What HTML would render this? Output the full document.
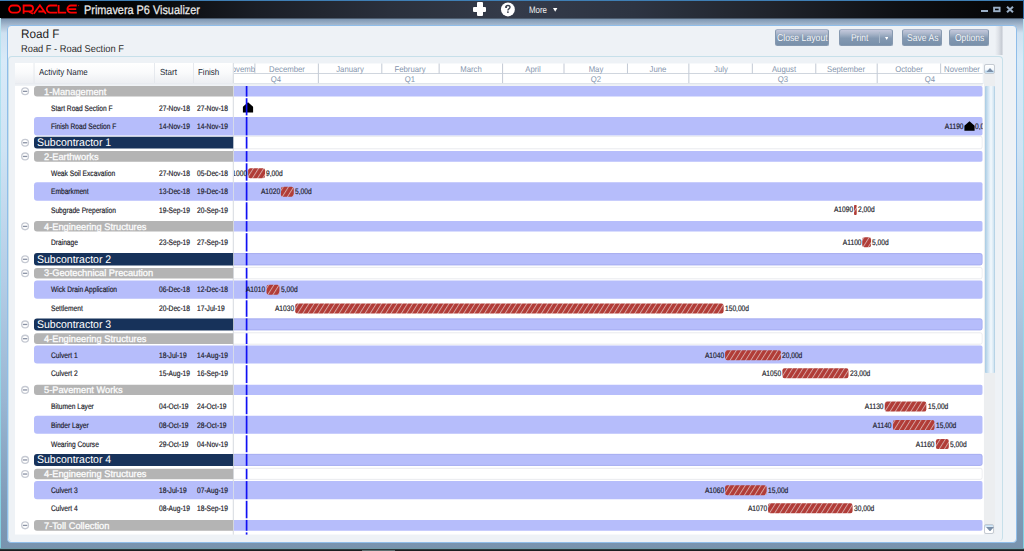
<!DOCTYPE html>
<html><head><meta charset="utf-8"><style>
*{margin:0;padding:0;box-sizing:border-box}
html,body{width:1024px;height:551px;overflow:hidden}
body{position:relative;font-family:"Liberation Sans", sans-serif;background:linear-gradient(to bottom,#7e97b2 19px,#a6bad0 25px,#cfe1f1 33px,#d8eaf8 60px,#cfe3f4 150px,#b4cde6 280px,#9ab6d2 400px,#809cb9 500px,#7893ae 549px);}
.t{position:absolute;white-space:nowrap;line-height:1;font-family:"Liberation Sans", sans-serif;text-rendering:geometricPrecision}
.btxt{text-rendering:geometricPrecision}
.b{position:absolute}
.clip{position:absolute;overflow:hidden}
.btn{position:absolute;top:29px;height:17px;border-radius:2.5px;background:linear-gradient(to bottom,#c4c8dc 0%,#aab6ca 25%,#8499b2 55%,#7890aa 100%);border:0.6px solid #8699b0;border-top-color:#a4b0c6}
.btxt{position:absolute;white-space:nowrap;line-height:1;font-size:10px;color:#f6f8fb;text-shadow:0 0 1px #6a7f96;transform-origin:0 0;top:34px}
</style></head><body>
<!-- title bar -->
<div class="b" style="left:0;top:0;width:1024px;height:18px;background:linear-gradient(to right,#000 0%,#030405 12%,#1a1e26 25%,#2a303c 38%,#343b4a 50%,#2d3442 62%,#20242c 75%,#0e1014 88%,#07080a 96%,#050608 100%)"></div>
<div class="b" style="left:0;top:0;width:1024px;height:1px;background:#3f7fb5"></div>
<div class="b" style="left:1023px;top:0;width:1px;height:19px;background:#2f6ea6;z-index:2"></div>
<div class="b" style="left:0;top:18px;width:1024px;height:1px;background:#4d5d70"></div>
<div class="b" style="left:1023px;top:0;width:1px;height:551px;background:linear-gradient(#b8e4f2,#9adaea 50%,#80d0e0)"></div>
<div class="b" style="left:0;top:18px;width:1px;height:533px;background:linear-gradient(#b8e4f2,#9adaea 50%,#80d0e0)"></div>
<svg class="b" style="left:7px;top:4.4px" width="74" height="11" viewBox="0 0 74 11">
 <g fill="none" stroke="#f00" stroke-width="1.8">
  <path d="M5.6 1.5 H9.6 A3.55 3.55 0 0 1 9.6 8.6 H5.6 A3.55 3.55 0 0 1 5.6 1.5 Z"/>
  <path d="M16.6 9.7 V1.5 H23.1 A2.95 2.95 0 0 1 23.1 7.4 H17.4 M21.8 7.4 L26 9.7"/>
  <path d="M26.8 9.7 L32.9 1.3 L38.9 9.7 M31.4 7.5 H37.2"/>
  <path d="M50.2 1.5 H43.4 A3.6 3.6 0 0 0 43.4 8.7 H50.2"/>
  <path d="M51.6 1.1 V8.7 H59.2"/>
  <path d="M69.8 1.5 H64 A3.6 3.6 0 0 0 64 8.7 H69.8 M61.2 5.1 H69.2"/>
 </g>
 <circle cx="71.6" cy="1.6" r="0.6" fill="#c00"/>
</svg>
<div class="t" style="left:83.7px;top:4px;font-size:12.3px;color:#ececec;transform:scaleX(0.885);transform-origin:0 0;-webkit-text-stroke:0.25px #ececec">Primavera P6 Visualizer</div>
<!-- plus icon -->
<div class="b" style="left:477.2px;top:2.4px;width:5.4px;height:13.7px;background:#fff;border-radius:1px"></div>
<div class="b" style="left:472.8px;top:6.8px;width:13.7px;height:5.4px;background:#fff;border-radius:1px"></div>
<!-- help icon -->
<svg class="b" style="left:500px;top:2px" width="16" height="16" viewBox="500 2 16 16">
 <circle cx="507.9" cy="9.45" r="6.95" fill="#fff"/>
 <path d="M505.9 7.6 Q505.7 5.5 508 5.5 Q510.1 5.5 510 7.3 Q509.9 8.4 508.7 9 Q507.9 9.5 507.9 10.6" fill="none" stroke="#3a404c" stroke-width="1.45"/>
 <circle cx="506.2" cy="7.2" r="0.9" fill="#3a404c"/>
 <circle cx="507.9" cy="12.1" r="0.95" fill="#3a404c"/>
</svg>
<div class="t" style="left:529px;top:6px;font-size:9.5px;color:#f2f2f2;transform:scaleX(0.83);transform-origin:0 0">More</div>
<svg class="b" style="left:553.2px;top:8.2px" width="4.4" height="3.8"><path d="M0 0 H4.4 L2.2 3.8 Z" fill="#fff"/></svg>
<!-- window controls -->
<div class="b" style="left:980.5px;top:9.6px;width:7.5px;height:2.4px;background:#9aafc7"></div>
<svg class="b" style="left:990px;top:4px" width="14" height="12"><rect x="4.1" y="3.7" width="5.5" height="3.5" fill="none" stroke="#9aafc7" stroke-width="1.9"/></svg>
<svg class="b" style="left:1005.5px;top:5.8px" width="8" height="7"><path d="M1 0.8 L7 6.2 M7 0.8 L1 6.2" stroke="#9aafc7" stroke-width="2.1"/></svg>

<!-- outer panel -->
<div class="b" style="left:7px;top:25px;width:1010px;height:518px;background:#eef2f6;border:1px solid #8fbde9;border-radius:4px"></div>
<!-- shadow strip -->
<div class="b" style="left:995px;top:26px;width:8px;height:28.5px;background:linear-gradient(to right,#eef2f6,#dde1e7 45%,#c6cbd3 85%,#e4e8ee)"></div>
<div class="t" style="left:21.1px;top:28px;font-size:12.3px;color:#1b1b1b;transform:scaleX(0.953);transform-origin:0 0">Road F</div>
<div class="t" style="left:21.1px;top:45px;font-size:10px;color:#2e2e2e;transform:scaleX(0.93);transform-origin:0 0">Road F - Road Section F</div>
<!-- buttons -->
<div class="btn" style="left:775px;width:54.2px"></div>
<div class="btxt" style="left:776.8px;transform:scaleX(0.868)">Close Layout</div>
<div class="btn" style="left:839.4px;width:53.4px"></div>
<div class="b" style="left:879.2px;top:31.6px;width:0.8px;height:11.3px;background:#a9b9ca"></div>
<div class="btxt" style="left:850.8px;transform:scaleX(0.842)">Print</div>
<svg class="b" style="left:884.7px;top:36.6px" width="3.4" height="3"><path d="M0 0 H3.4 L1.7 3 Z" fill="#fff"/></svg>
<div class="btn" style="left:902.3px;width:40px"></div>
<div class="btxt" style="left:907px;transform:scaleX(0.858)">Save As</div>
<div class="btn" style="left:949.2px;width:39.8px"></div>
<div class="btxt" style="left:954.6px;transform:scaleX(0.847)">Options</div>

<!-- inner panel -->
<div class="b" style="left:8px;top:56px;width:994.5px;height:485px;border:1px solid #c7e0ea;border-bottom:none;border-radius:4px 4px 4px 4px;background:#eef2f6"></div>
<svg class="b" style="left:0;top:0" width="1024" height="551" viewBox="0 0 1024 551">
<defs>
 <pattern id="stripe" patternUnits="userSpaceOnUse" width="4.4" height="20" patternTransform="rotate(32)">
  <rect width="4.4" height="20" fill="#b13c37"/><rect x="0" width="0.95" height="20" fill="#d5a6a4"/>
 </pattern>
 <clipPath id="gclip"><rect x="234.0" y="84" width="748.7" height="451"/></clipPath>
</defs>
<!-- table header -->
<rect x="15" y="63" width="218.5" height="20.5" fill="url(#hg)"/>
<linearGradient id="hg" x1="0" y1="0" x2="0" y2="1"><stop offset="0" stop-color="#ffffff"/><stop offset="0.45" stop-color="#fafbfc"/><stop offset="1" stop-color="#eceef2"/></linearGradient>
<rect x="15" y="83.3" width="218.5" height="0.9" fill="#dfe2e7"/>
<rect x="33.6" y="63" width="0.9" height="20.3" fill="#e4e7ec"/>
<rect x="154" y="63" width="0.9" height="20.3" fill="#e4e7ec"/>
<rect x="193" y="63" width="0.9" height="20.3" fill="#e4e7ec"/>
<!-- table body -->
<rect x="15" y="84.2" width="218.5" height="450.3" fill="#fff"/>
<rect x="232.8" y="63" width="0.9" height="471.5" fill="#d3d7dd"/>
<!-- gantt header -->
<rect x="234" y="63.5" width="748.7" height="20" fill="#fff"/>
<rect x="234" y="73" width="748.7" height="0.9" fill="#cbd2db"/>
<rect x="234" y="83" width="748.7" height="0.9" fill="#cbd2db"/>
<rect x="254.4" y="63.5" width="1" height="10" fill="#c3cad5"/><rect x="317.86" y="63.5" width="1" height="10" fill="#c3cad5"/><rect x="381.31" y="63.5" width="1" height="10" fill="#c3cad5"/><rect x="438.63" y="63.5" width="1" height="10" fill="#c3cad5"/><rect x="502.09" y="63.5" width="1" height="10" fill="#c3cad5"/><rect x="563.5" y="63.5" width="1" height="10" fill="#c3cad5"/><rect x="626.95" y="63.5" width="1" height="10" fill="#c3cad5"/><rect x="688.36" y="63.5" width="1" height="10" fill="#c3cad5"/><rect x="751.82" y="63.5" width="1" height="10" fill="#c3cad5"/><rect x="815.28" y="63.5" width="1" height="10" fill="#c3cad5"/><rect x="876.69" y="63.5" width="1" height="10" fill="#c3cad5"/><rect x="940.14" y="63.5" width="1" height="10" fill="#c3cad5"/><rect x="317.86" y="73.5" width="1" height="10" fill="#c3cad5"/><rect x="502.09" y="73.5" width="1" height="10" fill="#c3cad5"/><rect x="688.36" y="73.5" width="1" height="10" fill="#c3cad5"/><rect x="876.69" y="73.5" width="1" height="10" fill="#c3cad5"/>
<!-- gantt body -->
<rect x="234" y="84" width="749.9" height="450.5" fill="#fff"/>
<rect x="15" y="83.4" width="967.7" height="2.4" fill="#eceff3"/>
<circle cx="25.1" cy="91.3" r="3.4" fill="#fff" stroke="#c6cad3" stroke-width="1.3"/><rect x="22.9" y="90.7" width="4.4" height="1.3" fill="#8a92a4"/><path d="M233.2 86.0 H37.0 Q34.0 86.0 34.0 89.0 V93.6 Q34.0 96.6 37.0 96.6 H233.2 Z" fill="#b4b4b4" /><path d="M233.2 117.0 H37.0 Q34.0 117.0 34.0 120.0 V132.4 Q34.0 135.4 37.0 135.4 H233.2 Z" fill="#b6bdfb" /><circle cx="25.1" cy="142.7" r="3.4" fill="#fff" stroke="#c6cad3" stroke-width="1.3"/><rect x="22.9" y="142.1" width="4.4" height="1.3" fill="#8a92a4"/><path d="M233.2 136.8 H37.0 Q34.0 136.8 34.0 139.8 V145.6 Q34.0 148.6 37.0 148.6 H233.2 Z" fill="#17325a" /><circle cx="25.1" cy="156.4" r="3.4" fill="#fff" stroke="#c6cad3" stroke-width="1.3"/><rect x="22.9" y="155.8" width="4.4" height="1.3" fill="#8a92a4"/><path d="M233.2 151.1 H37.0 Q34.0 151.1 34.0 154.1 V158.7 Q34.0 161.7 37.0 161.7 H233.2 Z" fill="#b4b4b4" /><path d="M233.2 182.3 H37.0 Q34.0 182.3 34.0 185.3 V197.7 Q34.0 200.7 37.0 200.7 H233.2 Z" fill="#b6bdfb" /><circle cx="25.1" cy="226.35" r="3.4" fill="#fff" stroke="#c6cad3" stroke-width="1.3"/><rect x="22.9" y="225.75" width="4.4" height="1.3" fill="#8a92a4"/><path d="M233.2 221.1 H37.0 Q34.0 221.1 34.0 224.1 V228.6 Q34.0 231.6 37.0 231.6 H233.2 Z" fill="#b4b4b4" /><circle cx="25.1" cy="259.25" r="3.4" fill="#fff" stroke="#c6cad3" stroke-width="1.3"/><rect x="22.9" y="258.65" width="4.4" height="1.3" fill="#8a92a4"/><path d="M233.2 253.1 H37.0 Q34.0 253.1 34.0 256.1 V262.4 Q34.0 265.4 37.0 265.4 H233.2 Z" fill="#17325a" /><circle cx="25.1" cy="273.25" r="3.4" fill="#fff" stroke="#c6cad3" stroke-width="1.3"/><rect x="22.9" y="272.65" width="4.4" height="1.3" fill="#8a92a4"/><path d="M233.2 267.9 H37.0 Q34.0 267.9 34.0 270.9 V275.6 Q34.0 278.6 37.0 278.6 H233.2 Z" fill="#b4b4b4" /><path d="M233.2 280.4 H37.0 Q34.0 280.4 34.0 283.4 V295.7 Q34.0 298.7 37.0 298.7 H233.2 Z" fill="#b6bdfb" /><circle cx="25.1" cy="324.4" r="3.4" fill="#fff" stroke="#c6cad3" stroke-width="1.3"/><rect x="22.9" y="323.8" width="4.4" height="1.3" fill="#8a92a4"/><path d="M233.2 318.4 H37.0 Q34.0 318.4 34.0 321.4 V327.4 Q34.0 330.4 37.0 330.4 H233.2 Z" fill="#17325a" /><circle cx="25.1" cy="338.65" r="3.4" fill="#fff" stroke="#c6cad3" stroke-width="1.3"/><rect x="22.9" y="338.05" width="4.4" height="1.3" fill="#8a92a4"/><path d="M233.2 333.3 H37.0 Q34.0 333.3 34.0 336.3 V341.0 Q34.0 344.0 37.0 344.0 H233.2 Z" fill="#b4b4b4" /><path d="M233.2 345.6 H37.0 Q34.0 345.6 34.0 348.6 V360.6 Q34.0 363.6 37.0 363.6 H233.2 Z" fill="#b6bdfb" /><circle cx="25.1" cy="389.9" r="3.4" fill="#fff" stroke="#c6cad3" stroke-width="1.3"/><rect x="22.9" y="389.3" width="4.4" height="1.3" fill="#8a92a4"/><path d="M233.2 384.7 H37.0 Q34.0 384.7 34.0 387.7 V392.1 Q34.0 395.1 37.0 395.1 H233.2 Z" fill="#b4b4b4" /><path d="M233.2 415.8 H37.0 Q34.0 415.8 34.0 418.8 V430.7 Q34.0 433.7 37.0 433.7 H233.2 Z" fill="#b6bdfb" /><circle cx="25.1" cy="459.9" r="3.4" fill="#fff" stroke="#c6cad3" stroke-width="1.3"/><rect x="22.9" y="459.3" width="4.4" height="1.3" fill="#8a92a4"/><path d="M233.2 453.9 H37.0 Q34.0 453.9 34.0 456.9 V462.9 Q34.0 465.9 37.0 465.9 H233.2 Z" fill="#17325a" /><circle cx="25.1" cy="474.0" r="3.4" fill="#fff" stroke="#c6cad3" stroke-width="1.3"/><rect x="22.9" y="473.4" width="4.4" height="1.3" fill="#8a92a4"/><path d="M233.2 468.8 H37.0 Q34.0 468.8 34.0 471.8 V476.2 Q34.0 479.2 37.0 479.2 H233.2 Z" fill="#b4b4b4" /><path d="M233.2 481.1 H37.0 Q34.0 481.1 34.0 484.1 V496.2 Q34.0 499.2 37.0 499.2 H233.2 Z" fill="#b6bdfb" /><circle cx="25.1" cy="525.35" r="3.4" fill="#fff" stroke="#c6cad3" stroke-width="1.3"/><rect x="22.9" y="524.75" width="4.4" height="1.3" fill="#8a92a4"/><path d="M233.2 519.9 H37.0 Q34.0 519.9 34.0 522.9 V527.8 Q34.0 530.8 37.0 530.8 H233.2 Z" fill="#b4b4b4" />
<g clip-path="url(#gclip)">
<path d="M232.0 86.0 H980.7 Q982.7 86.0 982.7 88.0 V94.6 Q982.7 96.6 980.7 96.6 H232.0 Z" fill="#b6bdfb" /><path d="M242.9 106.8 L248.0 102.3 L253.1 106.8 L253.1 112.6 L242.9 112.6 Z" fill="#000"/><path d="M232.0 117.0 H980.7 Q982.7 117.0 982.7 119.0 V133.4 Q982.7 135.4 980.7 135.4 H232.0 Z" fill="#b6bdfb" /><path d="M964.4 125.7 L969.5 121.2 L974.6 125.7 L974.6 130.8 L964.4 130.8 Z" fill="#000"/><path d="M232.0 136.3 H980.25 Q982.25 136.3 982.25 138.3 V146.8 Q982.25 148.8 980.25 148.8 H232.0 Z" fill="#fff" stroke="#e6e8ec" stroke-width="0.9"/><path d="M232.0 151.1 H980.7 Q982.7 151.1 982.7 153.1 V159.7 Q982.7 161.7 980.7 161.7 H232.0 Z" fill="#b6bdfb" /><rect x="248.11" y="168.2" width="17.02" height="10" rx="2.2" fill="url(#stripe)"/><path d="M232.0 182.3 H980.7 Q982.7 182.3 982.7 184.3 V198.7 Q982.7 200.7 980.7 200.7 H232.0 Z" fill="#b6bdfb" /><rect x="280.86" y="186.7" width="12.93" height="10" rx="2.2" fill="url(#stripe)"/><rect x="854.02" y="204.9" width="2.69" height="10" rx="0.9" fill="url(#stripe)"/><path d="M232.0 221.1 H980.7 Q982.7 221.1 982.7 223.1 V229.6 Q982.7 231.6 980.7 231.6 H232.0 Z" fill="#b6bdfb" /><rect x="862.21" y="237.2" width="8.84" height="10" rx="2.2" fill="url(#stripe)"/><path d="M232.0 253.55 H980.25 Q982.25 253.55 982.25 255.55 V262.95 Q982.25 264.95 980.25 264.95 H232.0 Z" fill="#b6bdfb" stroke="#a2a9ee" stroke-width="0.9"/><path d="M232.0 267.4 H980.25 Q982.25 267.4 982.25 269.4 V276.8 Q982.25 278.8 980.25 278.8 H232.0 Z" fill="#fff" stroke="#e6e8ec" stroke-width="0.9"/><path d="M232.0 280.4 H980.7 Q982.7 280.4 982.7 282.4 V296.7 Q982.7 298.7 980.7 298.7 H232.0 Z" fill="#b6bdfb" /><rect x="266.53" y="284.7" width="12.93" height="10" rx="2.2" fill="url(#stripe)"/><rect x="295.19" y="303.5" width="428.47" height="10" rx="2.2" fill="url(#stripe)"/><path d="M232.0 318.85 H980.25 Q982.25 318.85 982.25 320.85 V327.95 Q982.25 329.95 980.25 329.95 H232.0 Z" fill="#b6bdfb" stroke="#a2a9ee" stroke-width="0.9"/><path d="M232.0 332.8 H980.25 Q982.25 332.8 982.25 334.8 V342.2 Q982.25 344.2 980.25 344.2 H232.0 Z" fill="#fff" stroke="#e6e8ec" stroke-width="0.9"/><path d="M232.0 345.6 H980.7 Q982.7 345.6 982.7 347.6 V361.6 Q982.7 363.6 980.7 363.6 H232.0 Z" fill="#b6bdfb" /><rect x="725.06" y="350.2" width="55.92" height="10" rx="2.2" fill="url(#stripe)"/><rect x="782.38" y="368.2" width="66.15" height="10" rx="2.2" fill="url(#stripe)"/><path d="M232.0 384.7 H980.7 Q982.7 384.7 982.7 386.7 V393.1 Q982.7 395.1 980.7 395.1 H232.0 Z" fill="#b6bdfb" /><rect x="884.73" y="401.6" width="41.59" height="10" rx="2.2" fill="url(#stripe)"/><path d="M232.0 415.8 H980.7 Q982.7 415.8 982.7 417.8 V431.7 Q982.7 433.7 980.7 433.7 H232.0 Z" fill="#b6bdfb" /><rect x="892.92" y="420.1" width="41.59" height="10" rx="2.2" fill="url(#stripe)"/><rect x="935.9" y="439.1" width="12.93" height="10" rx="2.2" fill="url(#stripe)"/><path d="M232.0 454.35 H980.25 Q982.25 454.35 982.25 456.35 V463.45 Q982.25 465.45 980.25 465.45 H232.0 Z" fill="#b6bdfb" stroke="#a2a9ee" stroke-width="0.9"/><path d="M232.0 468.3 H980.25 Q982.25 468.3 982.25 470.3 V477.4 Q982.25 479.4 980.25 479.4 H232.0 Z" fill="#fff" stroke="#e6e8ec" stroke-width="0.9"/><path d="M232.0 481.1 H980.7 Q982.7 481.1 982.7 483.1 V497.2 Q982.7 499.2 980.7 499.2 H232.0 Z" fill="#b6bdfb" /><rect x="725.06" y="485.3" width="41.59" height="10" rx="2.2" fill="url(#stripe)"/><rect x="768.05" y="503.3" width="84.57" height="10" rx="2.2" fill="url(#stripe)"/><path d="M232.0 519.9 H980.7 Q982.7 519.9 982.7 521.9 V528.8 Q982.7 530.8 980.7 530.8 H232.0 Z" fill="#b6bdfb" />
<rect x="245.75" y="86.0" width="1.7" height="10.6" fill="#1010f4"/><rect x="245.75" y="98.2" width="1.7" height="17.2" fill="#1010f4"/><rect x="245.75" y="117.0" width="1.7" height="18.4" fill="#1010f4"/><rect x="245.75" y="136.8" width="1.7" height="11.8" fill="#1010f4"/><rect x="245.75" y="151.1" width="1.7" height="10.6" fill="#1010f4"/><rect x="245.75" y="163.3" width="1.7" height="17.4" fill="#1010f4"/><rect x="245.75" y="182.3" width="1.7" height="18.4" fill="#1010f4"/><rect x="245.75" y="202.3" width="1.7" height="17.2" fill="#1010f4"/><rect x="245.75" y="221.1" width="1.7" height="10.5" fill="#1010f4"/><rect x="245.75" y="233.2" width="1.7" height="18.3" fill="#1010f4"/><rect x="245.75" y="253.1" width="1.7" height="12.3" fill="#1010f4"/><rect x="245.75" y="267.9" width="1.7" height="10.7" fill="#1010f4"/><rect x="245.75" y="280.4" width="1.7" height="18.3" fill="#1010f4"/><rect x="245.75" y="300.3" width="1.7" height="16.5" fill="#1010f4"/><rect x="245.75" y="318.4" width="1.7" height="12.0" fill="#1010f4"/><rect x="245.75" y="333.3" width="1.7" height="10.7" fill="#1010f4"/><rect x="245.75" y="345.6" width="1.7" height="18.0" fill="#1010f4"/><rect x="245.75" y="365.2" width="1.7" height="17.9" fill="#1010f4"/><rect x="245.75" y="384.7" width="1.7" height="10.4" fill="#1010f4"/><rect x="245.75" y="396.7" width="1.7" height="17.5" fill="#1010f4"/><rect x="245.75" y="415.8" width="1.7" height="17.9" fill="#1010f4"/><rect x="245.75" y="435.3" width="1.7" height="17.0" fill="#1010f4"/><rect x="245.75" y="453.9" width="1.7" height="12.0" fill="#1010f4"/><rect x="245.75" y="468.8" width="1.7" height="10.4" fill="#1010f4"/><rect x="245.75" y="481.1" width="1.7" height="18.1" fill="#1010f4"/><rect x="245.75" y="500.8" width="1.7" height="17.5" fill="#1010f4"/><rect x="245.75" y="519.9" width="1.7" height="10.9" fill="#1010f4"/>
<rect x="245.75" y="532.4" width="1.7" height="2.2" fill="#1010f4"/>
</g>
</svg>
<!-- header text -->
<div class="t" style="left:38.6px;top:68px;font-size:8.8px;color:#222833;transform:scaleX(0.907);transform-origin:0 0">Activity Name</div>
<div class="t" style="left:159.7px;top:68px;font-size:8.8px;color:#222833;transform:scaleX(0.907);transform-origin:0 0">Start</div>
<div class="t" style="left:198px;top:68px;font-size:8.8px;color:#222833;transform:scaleX(0.907);transform-origin:0 0">Finish</div>
<div class="clip" style="left:234.0px;width:20.9px;top:63px;height:11px"><div class="t" style="left:-189.55px;width:400px;text-align:center;top:2px;font-size:8.4px;color:#8595ad;transform:scaleX(0.926);transform-origin:50% 0;">November</div></div><div class="clip" style="left:254.9px;width:63.46px;top:63px;height:11px"><div class="t" style="left:-168.27px;width:400px;text-align:center;top:2px;font-size:8.4px;color:#8595ad;transform:scaleX(0.926);transform-origin:50% 0;">December</div></div><div class="clip" style="left:318.36px;width:63.46px;top:63px;height:11px"><div class="t" style="left:-168.27px;width:400px;text-align:center;top:2px;font-size:8.4px;color:#8595ad;transform:scaleX(0.926);transform-origin:50% 0;">January</div></div><div class="clip" style="left:381.81px;width:57.32px;top:63px;height:11px"><div class="t" style="left:-171.34px;width:400px;text-align:center;top:2px;font-size:8.4px;color:#8595ad;transform:scaleX(0.926);transform-origin:50% 0;">February</div></div><div class="clip" style="left:439.13px;width:63.46px;top:63px;height:11px"><div class="t" style="left:-168.27px;width:400px;text-align:center;top:2px;font-size:8.4px;color:#8595ad;transform:scaleX(0.926);transform-origin:50% 0;">March</div></div><div class="clip" style="left:502.59px;width:61.41px;top:63px;height:11px"><div class="t" style="left:-169.29px;width:400px;text-align:center;top:2px;font-size:8.4px;color:#8595ad;transform:scaleX(0.926);transform-origin:50% 0;">April</div></div><div class="clip" style="left:564.0px;width:63.46px;top:63px;height:11px"><div class="t" style="left:-168.27px;width:400px;text-align:center;top:2px;font-size:8.4px;color:#8595ad;transform:scaleX(0.926);transform-origin:50% 0;">May</div></div><div class="clip" style="left:627.45px;width:61.41px;top:63px;height:11px"><div class="t" style="left:-169.29px;width:400px;text-align:center;top:2px;font-size:8.4px;color:#8595ad;transform:scaleX(0.926);transform-origin:50% 0;">June</div></div><div class="clip" style="left:688.86px;width:63.46px;top:63px;height:11px"><div class="t" style="left:-168.27px;width:400px;text-align:center;top:2px;font-size:8.4px;color:#8595ad;transform:scaleX(0.926);transform-origin:50% 0;">July</div></div><div class="clip" style="left:752.32px;width:63.46px;top:63px;height:11px"><div class="t" style="left:-168.27px;width:400px;text-align:center;top:2px;font-size:8.4px;color:#8595ad;transform:scaleX(0.926);transform-origin:50% 0;">August</div></div><div class="clip" style="left:815.78px;width:61.41px;top:63px;height:11px"><div class="t" style="left:-169.3px;width:400px;text-align:center;top:2px;font-size:8.4px;color:#8595ad;transform:scaleX(0.926);transform-origin:50% 0;">September</div></div><div class="clip" style="left:877.19px;width:63.46px;top:63px;height:11px"><div class="t" style="left:-168.27px;width:400px;text-align:center;top:2px;font-size:8.4px;color:#8595ad;transform:scaleX(0.926);transform-origin:50% 0;">October</div></div><div class="clip" style="left:940.64px;width:42.06px;top:63px;height:11px"><div class="t" style="left:-178.97px;width:400px;text-align:center;top:2px;font-size:8.4px;color:#8595ad;transform:scaleX(0.926);transform-origin:50% 0;">November</div></div><div class="t" style="left:76.18px;width:400px;text-align:center;top:75px;font-size:8.4px;color:#8595ad;transform:scaleX(0.926);transform-origin:50% 0;">Q4</div><div class="t" style="left:210.47px;width:400px;text-align:center;top:75px;font-size:8.4px;color:#8595ad;transform:scaleX(0.926);transform-origin:50% 0;">Q1</div><div class="t" style="left:395.73px;width:400px;text-align:center;top:75px;font-size:8.4px;color:#8595ad;transform:scaleX(0.926);transform-origin:50% 0;">Q2</div><div class="t" style="left:583.03px;width:400px;text-align:center;top:75px;font-size:8.4px;color:#8595ad;transform:scaleX(0.926);transform-origin:50% 0;">Q3</div><div class="t" style="left:729.94px;width:400px;text-align:center;top:75px;font-size:8.4px;color:#8595ad;transform:scaleX(0.926);transform-origin:50% 0;">Q4</div>
<div class="t" style="left:44.2px;top:88px;font-size:9.5px;color:#fcfcfc;transform:scaleX(0.975);transform-origin:0 0;-webkit-text-stroke:0.3px #fcfcfc;">1-Management</div><div class="t" style="left:50.9px;top:105px;font-size:8px;color:#1a1a28;transform:scaleX(0.83);transform-origin:0 0;-webkit-text-stroke:0.18px #1a1a28;">Start Road Section F</div><div class="t" style="left:158.6px;top:105px;font-size:8px;color:#1a1a28;transform:scaleX(0.83);transform-origin:0 0;-webkit-text-stroke:0.18px #1a1a28;">27-Nov-18</div><div class="t" style="left:196.8px;top:105px;font-size:8px;color:#1a1a28;transform:scaleX(0.83);transform-origin:0 0;-webkit-text-stroke:0.18px #1a1a28;">27-Nov-18</div><div class="t" style="left:50.9px;top:123px;font-size:8px;color:#1a1a28;transform:scaleX(0.83);transform-origin:0 0;-webkit-text-stroke:0.18px #1a1a28;">Finish Road Section F</div><div class="t" style="left:158.6px;top:123px;font-size:8px;color:#1a1a28;transform:scaleX(0.83);transform-origin:0 0;-webkit-text-stroke:0.18px #1a1a28;">14-Nov-19</div><div class="t" style="left:196.8px;top:123px;font-size:8px;color:#1a1a28;transform:scaleX(0.83);transform-origin:0 0;-webkit-text-stroke:0.18px #1a1a28;">14-Nov-19</div><div class="t" style="left:36.8px;top:138px;font-size:11px;color:#ffffff;transform:scaleX(0.955);transform-origin:0 0;">Subcontractor 1</div><div class="t" style="left:44.2px;top:153px;font-size:9.5px;color:#fcfcfc;transform:scaleX(0.975);transform-origin:0 0;-webkit-text-stroke:0.3px #fcfcfc;">2-Earthworks</div><div class="t" style="left:50.9px;top:170px;font-size:8px;color:#1a1a28;transform:scaleX(0.83);transform-origin:0 0;-webkit-text-stroke:0.18px #1a1a28;">Weak Soil Excavation</div><div class="t" style="left:158.6px;top:170px;font-size:8px;color:#1a1a28;transform:scaleX(0.83);transform-origin:0 0;-webkit-text-stroke:0.18px #1a1a28;">27-Nov-18</div><div class="t" style="left:196.8px;top:170px;font-size:8px;color:#1a1a28;transform:scaleX(0.83);transform-origin:0 0;-webkit-text-stroke:0.18px #1a1a28;">05-Dec-18</div><div class="t" style="left:50.9px;top:188px;font-size:8px;color:#1a1a28;transform:scaleX(0.83);transform-origin:0 0;-webkit-text-stroke:0.18px #1a1a28;">Embarkment</div><div class="t" style="left:158.6px;top:188px;font-size:8px;color:#1a1a28;transform:scaleX(0.83);transform-origin:0 0;-webkit-text-stroke:0.18px #1a1a28;">13-Dec-18</div><div class="t" style="left:196.8px;top:188px;font-size:8px;color:#1a1a28;transform:scaleX(0.83);transform-origin:0 0;-webkit-text-stroke:0.18px #1a1a28;">19-Dec-18</div><div class="t" style="left:50.9px;top:207px;font-size:8px;color:#1a1a28;transform:scaleX(0.83);transform-origin:0 0;-webkit-text-stroke:0.18px #1a1a28;">Subgrade Preperation</div><div class="t" style="left:158.6px;top:207px;font-size:8px;color:#1a1a28;transform:scaleX(0.83);transform-origin:0 0;-webkit-text-stroke:0.18px #1a1a28;">19-Sep-19</div><div class="t" style="left:196.8px;top:207px;font-size:8px;color:#1a1a28;transform:scaleX(0.83);transform-origin:0 0;-webkit-text-stroke:0.18px #1a1a28;">20-Sep-19</div><div class="t" style="left:44.2px;top:223px;font-size:9.5px;color:#fcfcfc;transform:scaleX(0.975);transform-origin:0 0;-webkit-text-stroke:0.3px #fcfcfc;">4-Engineering Structures</div><div class="t" style="left:50.9px;top:239px;font-size:8px;color:#1a1a28;transform:scaleX(0.83);transform-origin:0 0;-webkit-text-stroke:0.18px #1a1a28;">Drainage</div><div class="t" style="left:158.6px;top:239px;font-size:8px;color:#1a1a28;transform:scaleX(0.83);transform-origin:0 0;-webkit-text-stroke:0.18px #1a1a28;">23-Sep-19</div><div class="t" style="left:196.8px;top:239px;font-size:8px;color:#1a1a28;transform:scaleX(0.83);transform-origin:0 0;-webkit-text-stroke:0.18px #1a1a28;">27-Sep-19</div><div class="t" style="left:36.8px;top:255px;font-size:11px;color:#ffffff;transform:scaleX(0.955);transform-origin:0 0;">Subcontractor 2</div><div class="t" style="left:44.2px;top:269px;font-size:9.5px;color:#fcfcfc;transform:scaleX(0.975);transform-origin:0 0;-webkit-text-stroke:0.3px #fcfcfc;">3-Geotechnical Precaution</div><div class="t" style="left:50.9px;top:286px;font-size:8px;color:#1a1a28;transform:scaleX(0.83);transform-origin:0 0;-webkit-text-stroke:0.18px #1a1a28;">Wick Drain Application</div><div class="t" style="left:158.6px;top:286px;font-size:8px;color:#1a1a28;transform:scaleX(0.83);transform-origin:0 0;-webkit-text-stroke:0.18px #1a1a28;">06-Dec-18</div><div class="t" style="left:196.8px;top:286px;font-size:8px;color:#1a1a28;transform:scaleX(0.83);transform-origin:0 0;-webkit-text-stroke:0.18px #1a1a28;">12-Dec-18</div><div class="t" style="left:50.9px;top:305px;font-size:8px;color:#1a1a28;transform:scaleX(0.83);transform-origin:0 0;-webkit-text-stroke:0.18px #1a1a28;">Settlement</div><div class="t" style="left:158.6px;top:305px;font-size:8px;color:#1a1a28;transform:scaleX(0.83);transform-origin:0 0;-webkit-text-stroke:0.18px #1a1a28;">20-Dec-18</div><div class="t" style="left:196.8px;top:305px;font-size:8px;color:#1a1a28;transform:scaleX(0.83);transform-origin:0 0;-webkit-text-stroke:0.18px #1a1a28;">17-Jul-19</div><div class="t" style="left:36.8px;top:320px;font-size:11px;color:#ffffff;transform:scaleX(0.955);transform-origin:0 0;">Subcontractor 3</div><div class="t" style="left:44.2px;top:335px;font-size:9.5px;color:#fcfcfc;transform:scaleX(0.975);transform-origin:0 0;-webkit-text-stroke:0.3px #fcfcfc;">4-Engineering Structures</div><div class="t" style="left:50.9px;top:352px;font-size:8px;color:#1a1a28;transform:scaleX(0.83);transform-origin:0 0;-webkit-text-stroke:0.18px #1a1a28;">Culvert 1</div><div class="t" style="left:158.6px;top:352px;font-size:8px;color:#1a1a28;transform:scaleX(0.83);transform-origin:0 0;-webkit-text-stroke:0.18px #1a1a28;">18-Jul-19</div><div class="t" style="left:196.8px;top:352px;font-size:8px;color:#1a1a28;transform:scaleX(0.83);transform-origin:0 0;-webkit-text-stroke:0.18px #1a1a28;">14-Aug-19</div><div class="t" style="left:50.9px;top:370px;font-size:8px;color:#1a1a28;transform:scaleX(0.83);transform-origin:0 0;-webkit-text-stroke:0.18px #1a1a28;">Culvert 2</div><div class="t" style="left:158.6px;top:370px;font-size:8px;color:#1a1a28;transform:scaleX(0.83);transform-origin:0 0;-webkit-text-stroke:0.18px #1a1a28;">15-Aug-19</div><div class="t" style="left:196.8px;top:370px;font-size:8px;color:#1a1a28;transform:scaleX(0.83);transform-origin:0 0;-webkit-text-stroke:0.18px #1a1a28;">16-Sep-19</div><div class="t" style="left:44.2px;top:386px;font-size:9.5px;color:#fcfcfc;transform:scaleX(0.975);transform-origin:0 0;-webkit-text-stroke:0.3px #fcfcfc;">5-Pavement Works</div><div class="t" style="left:50.9px;top:403px;font-size:8px;color:#1a1a28;transform:scaleX(0.83);transform-origin:0 0;-webkit-text-stroke:0.18px #1a1a28;">Bitumen Layer</div><div class="t" style="left:158.6px;top:403px;font-size:8px;color:#1a1a28;transform:scaleX(0.83);transform-origin:0 0;-webkit-text-stroke:0.18px #1a1a28;">04-Oct-19</div><div class="t" style="left:196.8px;top:403px;font-size:8px;color:#1a1a28;transform:scaleX(0.83);transform-origin:0 0;-webkit-text-stroke:0.18px #1a1a28;">24-Oct-19</div><div class="t" style="left:50.9px;top:422px;font-size:8px;color:#1a1a28;transform:scaleX(0.83);transform-origin:0 0;-webkit-text-stroke:0.18px #1a1a28;">Binder Layer</div><div class="t" style="left:158.6px;top:422px;font-size:8px;color:#1a1a28;transform:scaleX(0.83);transform-origin:0 0;-webkit-text-stroke:0.18px #1a1a28;">08-Oct-19</div><div class="t" style="left:196.8px;top:422px;font-size:8px;color:#1a1a28;transform:scaleX(0.83);transform-origin:0 0;-webkit-text-stroke:0.18px #1a1a28;">28-Oct-19</div><div class="t" style="left:50.9px;top:441px;font-size:8px;color:#1a1a28;transform:scaleX(0.83);transform-origin:0 0;-webkit-text-stroke:0.18px #1a1a28;">Wearing Course</div><div class="t" style="left:158.6px;top:441px;font-size:8px;color:#1a1a28;transform:scaleX(0.83);transform-origin:0 0;-webkit-text-stroke:0.18px #1a1a28;">29-Oct-19</div><div class="t" style="left:196.8px;top:441px;font-size:8px;color:#1a1a28;transform:scaleX(0.83);transform-origin:0 0;-webkit-text-stroke:0.18px #1a1a28;">04-Nov-19</div><div class="t" style="left:36.8px;top:455px;font-size:11px;color:#ffffff;transform:scaleX(0.955);transform-origin:0 0;">Subcontractor 4</div><div class="t" style="left:44.2px;top:470px;font-size:9.5px;color:#fcfcfc;transform:scaleX(0.975);transform-origin:0 0;-webkit-text-stroke:0.3px #fcfcfc;">4-Engineering Structures</div><div class="t" style="left:50.9px;top:487px;font-size:8px;color:#1a1a28;transform:scaleX(0.83);transform-origin:0 0;-webkit-text-stroke:0.18px #1a1a28;">Culvert 3</div><div class="t" style="left:158.6px;top:487px;font-size:8px;color:#1a1a28;transform:scaleX(0.83);transform-origin:0 0;-webkit-text-stroke:0.18px #1a1a28;">18-Jul-19</div><div class="t" style="left:196.8px;top:487px;font-size:8px;color:#1a1a28;transform:scaleX(0.83);transform-origin:0 0;-webkit-text-stroke:0.18px #1a1a28;">07-Aug-19</div><div class="t" style="left:50.9px;top:505px;font-size:8px;color:#1a1a28;transform:scaleX(0.83);transform-origin:0 0;-webkit-text-stroke:0.18px #1a1a28;">Culvert 4</div><div class="t" style="left:158.6px;top:505px;font-size:8px;color:#1a1a28;transform:scaleX(0.83);transform-origin:0 0;-webkit-text-stroke:0.18px #1a1a28;">08-Aug-19</div><div class="t" style="left:196.8px;top:505px;font-size:8px;color:#1a1a28;transform:scaleX(0.83);transform-origin:0 0;-webkit-text-stroke:0.18px #1a1a28;">18-Sep-19</div><div class="t" style="left:44.2px;top:522px;font-size:9.5px;color:#fcfcfc;transform:scaleX(0.975);transform-origin:0 0;-webkit-text-stroke:0.3px #fcfcfc;">7-Toll Collection</div>
<div class="clip" style="left:0;top:0;width:1024px;height:551px;clip-path:inset(84px 41.3px 16px 234.0px)">
<div class="t" style="right:60.1px;top:123px;font-size:8px;color:#1a1a28;transform:scaleX(0.83);transform-origin:100% 0;-webkit-text-stroke:0.18px #1a1a28;">A1190</div><div class="t" style="left:975.3px;top:123px;font-size:8px;color:#1a1a28;transform:scaleX(0.83);transform-origin:0 0;-webkit-text-stroke:0.18px #1a1a28;">0,00d</div><div class="t" style="right:776.99px;top:170px;font-size:8px;color:#1a1a28;transform:scaleX(0.83);transform-origin:100% 0;-webkit-text-stroke:0.18px #1a1a28;">A1000</div><div class="t" style="left:266.44px;top:170px;font-size:8px;color:#1a1a28;transform:scaleX(0.83);transform-origin:0 0;-webkit-text-stroke:0.18px #1a1a28;">9,00d</div><div class="t" style="right:744.24px;top:188px;font-size:8px;color:#1a1a28;transform:scaleX(0.83);transform-origin:100% 0;-webkit-text-stroke:0.18px #1a1a28;">A1020</div><div class="t" style="left:295.09px;top:188px;font-size:8px;color:#1a1a28;transform:scaleX(0.83);transform-origin:0 0;-webkit-text-stroke:0.18px #1a1a28;">5,00d</div><div class="t" style="right:171.08px;top:206px;font-size:8px;color:#1a1a28;transform:scaleX(0.83);transform-origin:100% 0;-webkit-text-stroke:0.18px #1a1a28;">A1090</div><div class="t" style="left:858.02px;top:206px;font-size:8px;color:#1a1a28;transform:scaleX(0.83);transform-origin:0 0;-webkit-text-stroke:0.18px #1a1a28;">2,00d</div><div class="t" style="right:162.89px;top:239px;font-size:8px;color:#1a1a28;transform:scaleX(0.83);transform-origin:100% 0;-webkit-text-stroke:0.18px #1a1a28;">A1100</div><div class="t" style="left:872.35px;top:239px;font-size:8px;color:#1a1a28;transform:scaleX(0.83);transform-origin:0 0;-webkit-text-stroke:0.18px #1a1a28;">5,00d</div><div class="t" style="right:758.57px;top:286px;font-size:8px;color:#1a1a28;transform:scaleX(0.83);transform-origin:100% 0;-webkit-text-stroke:0.18px #1a1a28;">A1010</div><div class="t" style="left:280.76px;top:286px;font-size:8px;color:#1a1a28;transform:scaleX(0.83);transform-origin:0 0;-webkit-text-stroke:0.18px #1a1a28;">5,00d</div><div class="t" style="right:729.91px;top:305px;font-size:8px;color:#1a1a28;transform:scaleX(0.83);transform-origin:100% 0;-webkit-text-stroke:0.18px #1a1a28;">A1030</div><div class="t" style="left:724.96px;top:305px;font-size:8px;color:#1a1a28;transform:scaleX(0.83);transform-origin:0 0;-webkit-text-stroke:0.18px #1a1a28;">150,00d</div><div class="t" style="right:300.04px;top:352px;font-size:8px;color:#1a1a28;transform:scaleX(0.83);transform-origin:100% 0;-webkit-text-stroke:0.18px #1a1a28;">A1040</div><div class="t" style="left:782.28px;top:352px;font-size:8px;color:#1a1a28;transform:scaleX(0.83);transform-origin:0 0;-webkit-text-stroke:0.18px #1a1a28;">20,00d</div><div class="t" style="right:242.72px;top:370px;font-size:8px;color:#1a1a28;transform:scaleX(0.83);transform-origin:100% 0;-webkit-text-stroke:0.18px #1a1a28;">A1050</div><div class="t" style="left:849.83px;top:370px;font-size:8px;color:#1a1a28;transform:scaleX(0.83);transform-origin:0 0;-webkit-text-stroke:0.18px #1a1a28;">23,00d</div><div class="t" style="right:140.37px;top:403px;font-size:8px;color:#1a1a28;transform:scaleX(0.83);transform-origin:100% 0;-webkit-text-stroke:0.18px #1a1a28;">A1130</div><div class="t" style="left:927.62px;top:403px;font-size:8px;color:#1a1a28;transform:scaleX(0.83);transform-origin:0 0;-webkit-text-stroke:0.18px #1a1a28;">15,00d</div><div class="t" style="right:132.18px;top:422px;font-size:8px;color:#1a1a28;transform:scaleX(0.83);transform-origin:100% 0;-webkit-text-stroke:0.18px #1a1a28;">A1140</div><div class="t" style="left:935.8px;top:422px;font-size:8px;color:#1a1a28;transform:scaleX(0.83);transform-origin:0 0;-webkit-text-stroke:0.18px #1a1a28;">15,00d</div><div class="t" style="right:89.2px;top:441px;font-size:8px;color:#1a1a28;transform:scaleX(0.83);transform-origin:100% 0;-webkit-text-stroke:0.18px #1a1a28;">A1160</div><div class="t" style="left:950.13px;top:441px;font-size:8px;color:#1a1a28;transform:scaleX(0.83);transform-origin:0 0;-webkit-text-stroke:0.18px #1a1a28;">5,00d</div><div class="t" style="right:300.04px;top:487px;font-size:8px;color:#1a1a28;transform:scaleX(0.83);transform-origin:100% 0;-webkit-text-stroke:0.18px #1a1a28;">A1060</div><div class="t" style="left:767.95px;top:487px;font-size:8px;color:#1a1a28;transform:scaleX(0.83);transform-origin:0 0;-webkit-text-stroke:0.18px #1a1a28;">15,00d</div><div class="t" style="right:257.05px;top:505px;font-size:8px;color:#1a1a28;transform:scaleX(0.83);transform-origin:100% 0;-webkit-text-stroke:0.18px #1a1a28;">A1070</div><div class="t" style="left:853.92px;top:505px;font-size:8px;color:#1a1a28;transform:scaleX(0.83);transform-origin:0 0;-webkit-text-stroke:0.18px #1a1a28;">30,00d</div>
</div>
<!-- scrollbar -->
<div class="b" style="left:983.8px;top:63.5px;width:11px;height:470.5px;background:#eceef0"></div>
<div class="b" style="left:984.2px;top:63.8px;width:10.6px;height:10.7px;background:linear-gradient(to bottom,#ffffff 0%,#f4f8fc 55%,#bcdaf0 80%,#cfe4f4 100%);border:1px solid #c5cbd3;border-radius:2px"></div>
<svg class="b" style="left:985.6px;top:67.8px" width="8" height="4.4"><path d="M0 4.4 L4 0 L8 4.4 Z" fill="#7a8fa8"/></svg>
<div class="b" style="left:984.5px;top:86px;width:10px;height:286.7px;background:linear-gradient(to right,#a8cbe3 0%,#cfe3f2 30%,#f4f9fd 60%,#d5e7f3 85%,#a9cae0 100%);border-radius:1px"></div>
<div class="b" style="left:983.9px;top:523.6px;width:10.6px;height:10.2px;background:linear-gradient(to bottom,#b7d6ee,#ffffff 40%);border:1px solid #c5cbd3;border-radius:2px"></div>
<svg class="b" style="left:985.6px;top:527px" width="8" height="4.4"><path d="M0 0 L4 4.4 L8 0 Z" fill="#7a8fa8"/></svg>
<!-- bottom -->
<div class="b" style="left:0;top:548px;width:1024px;height:1px;background:#6f9aa8"></div>
<div class="b" style="left:362px;top:550px;width:33px;height:1px;background:#5d6e70;z-index:3"></div>
<div class="b" style="left:0;top:549px;width:1024px;height:2px;background:linear-gradient(#3a4a4e,#1c1e20 60%)"></div>
</body></html>
